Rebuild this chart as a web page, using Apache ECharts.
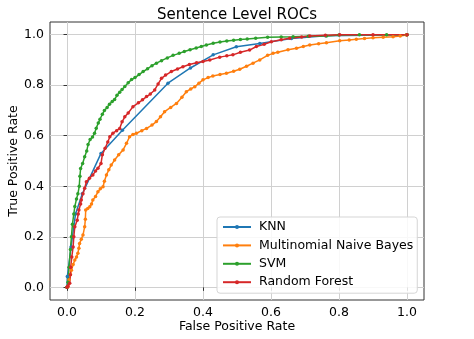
<!DOCTYPE html>
<html>
<head>
<meta charset="utf-8">
<title>Sentence Level ROCs</title>
<script src="https://cdn.jsdelivr.net/npm/echarts@6/dist/echarts.min.js"></script>
<style>
  html, body { margin: 0; padding: 0; background: #fff; }
  #chart { width: 474px; height: 339px; }
</style>
</head>
<body>
<div id="chart"></div>
<script>
// [false positive rate, true positive rate] pairs
const knn = [[0,0],[0.001,0.043],[0.012,0.16],[0.025,0.29],[0.045,0.37],[0.1,0.53],[0.163,0.622],[0.297,0.808],[0.363,0.868],[0.43,0.92],[0.498,0.952],[0.567,0.965],[0.66,0.985],[0.76,0.996],[1,1]];

const mnb = [[0,0],[0.003,0.002],[0.006,0.03],[0.01,0.05],[0.013,0.068],[0.018,0.09],[0.023,0.108],[0.028,0.12],[0.032,0.135],[0.035,0.155],[0.037,0.174],[0.042,0.19],[0.047,0.207],[0.052,0.24],[0.054,0.27],[0.055,0.306],[0.061,0.312],[0.067,0.319],[0.072,0.33],[0.076,0.346],[0.084,0.36],[0.091,0.378],[0.098,0.39],[0.106,0.398],[0.11,0.42],[0.116,0.445],[0.123,0.465],[0.13,0.484],[0.14,0.504],[0.152,0.525],[0.165,0.544],[0.175,0.57],[0.184,0.596],[0.194,0.605],[0.204,0.61],[0.22,0.62],[0.234,0.629],[0.25,0.642],[0.263,0.656],[0.275,0.675],[0.287,0.695],[0.305,0.712],[0.322,0.728],[0.338,0.752],[0.351,0.774],[0.364,0.785],[0.376,0.794],[0.388,0.808],[0.4,0.821],[0.415,0.83],[0.429,0.836],[0.45,0.842],[0.469,0.847],[0.49,0.855],[0.508,0.863],[0.528,0.875],[0.547,0.887],[0.567,0.9],[0.59,0.918],[0.606,0.926],[0.62,0.93],[0.65,0.94],[0.675,0.946],[0.695,0.953],[0.714,0.959],[0.74,0.964],[0.763,0.968],[0.802,0.976],[0.83,0.979],[0.851,0.982],[0.875,0.985],[0.9,0.988],[0.93,0.99],[0.959,0.992],[0.98,0.995],[0.998,0.999],[1,1]];

const svm = [[0,0],[0.003,0.02],[0.006,0.08],[0.01,0.15],[0.013,0.2],[0.016,0.25],[0.02,0.29],[0.023,0.32],[0.028,0.35],[0.032,0.37],[0.036,0.4],[0.038,0.44],[0.04,0.47],[0.046,0.49],[0.052,0.517],[0.058,0.54],[0.062,0.565],[0.068,0.585],[0.075,0.595],[0.081,0.61],[0.086,0.63],[0.092,0.65],[0.097,0.665],[0.104,0.685],[0.11,0.7],[0.118,0.712],[0.125,0.725],[0.133,0.735],[0.14,0.743],[0.147,0.76],[0.155,0.772],[0.162,0.783],[0.17,0.795],[0.18,0.81],[0.19,0.822],[0.2,0.83],[0.212,0.842],[0.224,0.854],[0.237,0.865],[0.25,0.877],[0.263,0.887],[0.278,0.897],[0.295,0.908],[0.312,0.918],[0.33,0.926],[0.345,0.933],[0.362,0.94],[0.38,0.947],[0.395,0.953],[0.41,0.959],[0.43,0.966],[0.45,0.971],[0.47,0.975],[0.49,0.978],[0.51,0.981],[0.53,0.983],[0.555,0.986],[0.59,0.99],[0.63,0.991],[0.665,0.992],[0.71,0.994],[0.763,0.995],[0.8,0.999],[0.86,1],[0.94,1],[1,1]];

const rf = [[0,0],[0.003,0.005],[0.008,0.016],[0.01,0.05],[0.011,0.08],[0.014,0.12],[0.018,0.16],[0.02,0.2],[0.023,0.24],[0.03,0.266],[0.033,0.29],[0.035,0.306],[0.04,0.33],[0.042,0.346],[0.047,0.37],[0.052,0.392],[0.057,0.418],[0.066,0.432],[0.076,0.445],[0.084,0.46],[0.091,0.471],[0.1,0.49],[0.104,0.525],[0.112,0.55],[0.12,0.575],[0.126,0.596],[0.135,0.61],[0.146,0.62],[0.155,0.629],[0.162,0.655],[0.17,0.675],[0.18,0.69],[0.194,0.715],[0.21,0.73],[0.222,0.742],[0.234,0.755],[0.245,0.765],[0.258,0.781],[0.268,0.805],[0.278,0.827],[0.29,0.84],[0.307,0.854],[0.325,0.864],[0.341,0.873],[0.36,0.882],[0.381,0.889],[0.4,0.894],[0.42,0.9],[0.449,0.911],[0.47,0.916],[0.488,0.92],[0.51,0.93],[0.537,0.939],[0.557,0.953],[0.58,0.962],[0.601,0.972],[0.63,0.98],[0.655,0.986],[0.69,0.991],[0.714,0.995],[0.76,0.998],[0.802,1],[0.9,1],[1,1]];

const tickValues = [0, 0.2, 0.4, 0.6, 0.8, 1.0];
const seriesNames = ['KNN', 'Multinomial Naive Bayes', 'SVM', 'Random Forest'];
const colors = ['#1f77b4', '#ff7f0e', '#2ca02c', '#d62728'];

const font = 'DejaVu Sans';

const makeAxis = (name, nameGap) => ({
    type: 'value',
    min: -0.05,
    max: 1.05,
    name: name,
    nameLocation: 'middle',
    nameGap: nameGap,
    nameMoveOverlap: false,
    nameTextStyle: { fontFamily: font, fontSize: 12.5, color: '#000' },
    axisLine: { show: false },
    axisTick: {
        show: true,
        length: 3.5,
        customValues: tickValues,
        lineStyle: { color: '#333', width: 1 }
    },
    axisLabel: {
        customValues: tickValues,
        margin: 6,
        fontFamily: font,
        fontSize: 12.5,
        color: '#000',
        formatter: (v) => v.toFixed(1)
    },
    splitLine: {
        show: true,
        lineStyle: { color: '#d0d0d0', width: 1 }
    }
});

const chart = echarts.init(document.getElementById('chart'));

const option = {
    animation: false,
    color: colors,
    title: {
        text: 'Sentence Level ROCs',
        left: 'center',
        top: 3,
        textStyle: { fontFamily: font, fontSize: 15, fontWeight: 'normal', color: '#000' }
    },
    grid: {
        left: 50,
        right: 50,
        top: 22,
        bottom: 39,
        outerBoundsMode: 'none',
        show: true,
        borderColor: '#333',
        borderWidth: 1,
        backgroundColor: 'transparent'
    },
    xAxis: makeAxis('False Positive Rate', 20),
    yAxis: makeAxis('True Positive Rate', 30),
    legend: {
        orient: 'vertical',
        left: 217,
        top: 217,
        padding: [3, 4, 4, 5],
        itemWidth: 28,
        itemHeight: 5,
        itemGap: 4.4,
        backgroundColor: 'rgba(255,255,255,0.85)',
        borderColor: '#d5d5d5',
        borderWidth: 1,
        borderRadius: 3,
        textStyle: { fontFamily: font, fontSize: 12.5, lineHeight: 14, color: '#000', padding: [0, 0, 0, 3] },
        data: seriesNames
    },
    series: [knn, mnb, svm, rf].map((d, i) => ({
        name: seriesNames[i],
        type: 'line',
        data: d,
        symbol: 'circle',
        symbolSize: 3.5,
        showSymbol: true,
        lineStyle: { width: 1.5 },
        emphasis: { disabled: true }
    }))
};

chart.setOption(option);

window.addEventListener('resize', () => {
    if (chart) {
        chart.resize();
    }
});
</script>
</body>
</html>
